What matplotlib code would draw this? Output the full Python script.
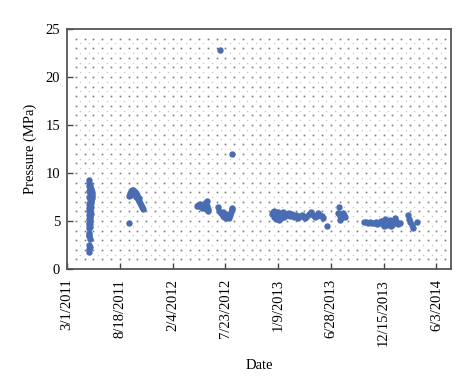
import numpy as np
import matplotlib
matplotlib.use("Agg")
from matplotlib import pyplot as plt
import matplotlib.dates as mdates

# pressure readings (date, MPa), grouped by measuring campaign
may_2011 = [
    ('2011-05-12', 9.3), ('2011-05-11', 9.0), ('2011-05-13', 8.8), ('2011-05-10', 8.6),
    ('2011-05-14', 8.5), ('2011-05-16', 8.3), ('2011-05-18', 8.2), ('2011-05-20', 8.0),
    ('2011-05-22', 7.8), ('2011-05-12', 8.1), ('2011-05-15', 7.9), ('2011-05-19', 7.6),
    ('2011-05-21', 7.4), ('2011-05-17', 7.7), ('2011-05-16', 7.2), ('2011-05-18', 6.9),
    ('2011-05-11', 7.5), ('2011-05-14', 7.3), ('2011-05-17', 7.1), ('2011-05-13', 7.0),
    ('2011-05-10', 6.8), ('2011-05-15', 6.6), ('2011-05-12', 6.4), ('2011-05-14', 6.2),
    ('2011-05-16', 6.5), ('2011-05-15', 6.0), ('2011-05-16', 5.7), ('2011-05-15', 5.3),
    ('2011-05-11', 6.0), ('2011-05-13', 5.8), ('2011-05-12', 5.6), ('2011-05-14', 5.4),
    ('2011-05-11', 5.2), ('2011-05-13', 5.0), ('2011-05-12', 4.8), ('2011-05-11', 4.6),
    ('2011-05-13', 4.4), ('2011-05-14', 4.7), ('2011-05-12', 4.3), ('2011-05-12', 3.7),
    ('2011-05-11', 3.4), ('2011-05-13', 3.1), ('2011-05-12', 3.5), ('2011-05-12', 2.5),
    ('2011-05-11', 2.1), ('2011-05-13', 2.3), ('2011-05-12', 1.8),
]
autumn_2011 = [
    ('2011-09-18', 4.8),
    ('2011-09-18', 7.6), ('2011-09-20', 7.9), ('2011-09-23', 8.1), ('2011-09-26', 8.2),
    ('2011-09-29', 8.2), ('2011-10-02', 8.1), ('2011-10-05', 8.0), ('2011-10-08', 7.9),
    ('2011-10-11', 7.7), ('2011-10-14', 7.5), ('2011-10-17', 7.3), ('2011-10-20', 7.1),
    ('2011-10-23', 6.9), ('2011-10-26', 6.7), ('2011-10-29', 6.5), ('2011-11-01', 6.3),
    ('2011-09-22', 7.7), ('2011-09-28', 7.9), ('2011-10-10', 7.5), ('2011-10-19', 7.4),
]
spring_2012 = [
    ('2012-04-22', 6.6), ('2012-04-26', 6.7), ('2012-04-30', 6.6), ('2012-05-04', 6.8),
    ('2012-05-08', 6.7), ('2012-05-12', 6.5), ('2012-05-16', 6.6), ('2012-05-20', 6.9),
    ('2012-05-24', 7.1), ('2012-05-26', 6.6), ('2012-05-28', 6.3), ('2012-05-29', 6.0),
    ('2012-05-22', 6.2), ('2012-05-18', 6.4), ('2012-05-10', 6.4),
]
summer_2012 = [
    ('2012-06-30', 6.5), ('2012-07-04', 6.0), ('2012-07-08', 5.8), ('2012-07-12', 5.7),
    ('2012-07-14', 5.5), ('2012-07-18', 5.4), ('2012-07-22', 5.5), ('2012-07-26', 5.3),
    ('2012-07-30', 5.4), ('2012-08-03', 5.5), ('2012-08-07', 5.6), ('2012-08-10', 5.9),
    ('2012-08-12', 6.2), ('2012-08-14', 6.4), ('2012-07-16', 5.9), ('2012-07-24', 5.7),
    ('2012-08-05', 5.3),
    ('2012-07-07', 22.8), ('2012-08-15', 12.0),
]
winter_2013 = [
    ('2012-12-20', 5.7), ('2012-12-24', 5.9), ('2012-12-28', 6.0), ('2013-01-01', 5.8),
    ('2013-01-05', 5.6), ('2013-01-09', 5.9), ('2013-01-13', 5.5), ('2013-01-17', 5.3),
    ('2013-01-21', 5.6), ('2013-01-25', 5.9), ('2013-01-29', 5.4), ('2013-02-02', 5.7),
    ('2012-12-26', 5.4), ('2013-01-03', 5.2), ('2013-01-11', 5.1), ('2013-01-19', 5.4),
    ('2013-02-06', 5.6), ('2013-02-12', 5.8), ('2013-02-18', 5.5), ('2013-02-24', 5.7),
    ('2013-03-02', 5.4), ('2013-03-08', 5.6), ('2013-03-14', 5.3), ('2013-03-20', 5.5),
    ('2013-03-26', 5.6), ('2013-04-01', 5.4), ('2013-04-07', 5.3), ('2013-04-13', 5.5),
    ('2013-04-19', 5.7), ('2013-04-25', 5.9), ('2013-05-01', 5.6), ('2013-05-07', 5.4),
    ('2013-05-13', 5.5), ('2013-05-19', 5.8), ('2013-05-25', 5.6), ('2013-05-31', 5.5),
    ('2013-06-04', 5.3), ('2013-06-16', 4.5),
]
summer_2013 = [
    ('2013-07-20', 5.8), ('2013-07-24', 6.5), ('2013-07-28', 5.5), ('2013-08-01', 5.3),
    ('2013-08-05', 5.8), ('2013-08-09', 5.6), ('2013-08-13', 5.4), ('2013-07-26', 5.1),
]
winter_2014 = [
    ('2013-10-14', 4.9), ('2013-10-20', 4.9), ('2013-10-26', 4.8), ('2013-11-01', 4.9),
    ('2013-11-07', 4.8), ('2013-11-13', 4.8), ('2013-11-19', 4.9), ('2013-11-25', 4.7),
    ('2013-12-01', 4.8), ('2013-12-07', 5.0), ('2013-12-13', 4.7), ('2013-12-19', 5.2),
    ('2013-12-25', 4.6), ('2013-12-31', 4.9), ('2014-01-06', 5.1), ('2014-01-12', 4.6),
    ('2014-01-18', 4.8), ('2014-01-24', 5.0), ('2014-01-30', 4.7), ('2014-02-05', 4.8),
    ('2013-12-16', 4.5), ('2014-01-09', 4.5), ('2014-01-21', 5.3),
]
spring_2014 = [
    ('2014-03-05', 5.6), ('2014-03-08', 5.2), ('2014-03-11', 4.9), ('2014-03-16', 4.6),
    ('2014-03-20', 4.3), ('2014-04-02', 4.9),
]

tick_dates = ['2011-03-01', '2011-08-18', '2012-02-04', '2012-07-23',
              '2013-01-09', '2013-06-28', '2013-12-15', '2014-06-03']
x_start, x_end = '2011-03-01', '2014-07-20'
y_ticks = [0, 5, 10, 15, 20, 25]

plt.rcParams['font.family'] = ['Liberation Serif', 'DejaVu Serif']

fig = plt.figure(figsize=(4.74, 3.87), dpi=100)
ax = fig.add_axes([0.1414, 0.305, 0.81, 0.62])

# dotted lattice background (6 steps between date ticks, 1 MPa steps)
x0 = mdates.datestr2num(x_start)
x1 = mdates.datestr2num(x_end)
gx = np.arange(x0, x1, 170 / 6)[1:]
gy = np.arange(1, 25, 1)
GX, GY = np.meshgrid(gx, gy)
ax.plot(GX.ravel(), GY.ravel(), ls='none', marker='s', ms=1.2,
        mew=0, color='#7a7a7a', zorder=0)
# fainter in-between dots
HX, HY = np.meshgrid(gx[:-1] + 170 / 12, gy[:-1] + 0.5)
ax.plot(HX.ravel(), HY.ravel(), ls='none', marker='s', ms=0.9,
        mew=0, color='#c4c4c4', zorder=0)

groups = [may_2011, autumn_2011, spring_2012, summer_2012,
          winter_2013, summer_2013, winter_2014, spring_2014]
for g in groups:
    d = mdates.datestr2num([p[0] for p in g])
    v = [p[1] for p in g]
    ax.plot(d, v, ls='none', marker='o', ms=4.6, mew=0, color='#4a6cb3', zorder=3)

ax.set_xlim(x0, x1)
ax.set_ylim(0, 25)
tick_nums = mdates.datestr2num(tick_dates)
ax.set_xticks(tick_nums)
labels = []
for t in tick_dates:
    yy, mm, dd = t.split('-')
    labels.append(f"{int(mm)}/{int(dd)}/{yy}")
ax.set_xticklabels(labels, rotation=90)
ax.set_yticks(y_ticks)

ax.tick_params(direction='in', length=4, width=1.0, color='#444444',
               labelsize=10.5, pad=5)
ax.tick_params(axis='x', pad=7)
for s in ax.spines.values():
    s.set_color('#555555')
    s.set_linewidth(1.3)

ax.set_xlabel('Date', fontsize=10.5, labelpad=10)
ax.set_ylabel('Pressure (MPa)', fontsize=10.5, labelpad=6)

fig.savefig('out.png', dpi=100)
